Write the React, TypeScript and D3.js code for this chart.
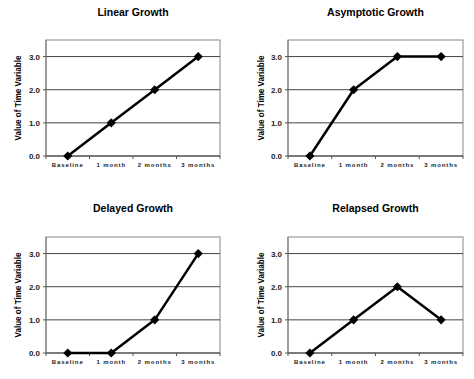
import React from "react";
import * as d3 from "d3";

const categories = ["Baseline", "1 month", "2 months", "3 months"];
const yTicks = [0, 1, 2, 3];
const titles = ["Linear Growth", "Asymptotic Growth", "Delayed Growth", "Relapsed Growth"];
const linearValues = [0, 1, 2, 3];
const asymptoticValues = [0, 2, 3, 3];
const delayedValues = [0, 0, 1, 3];
const relapsedValues = [0, 1, 2, 1];
const yLabel = "Value of Time Variable";

const panels = [
  { title: titles[0], values: linearValues, left: 46, top: 40, width: 174, height: 116, labelX: 18, titleY: 16 },
  { title: titles[1], values: asymptoticValues, left: 288, top: 40, width: 175, height: 116, labelX: 261, titleY: 16 },
  { title: titles[2], values: delayedValues, left: 46, top: 237, width: 174, height: 116, labelX: 18, titleY: 212 },
  { title: titles[3], values: relapsedValues, left: 288, top: 237, width: 175, height: 116, labelX: 261, titleY: 212 },
];

const font = "'Liberation Sans', Arial, sans-serif";

function Panel({ p }: { p: typeof panels[0] }) {
  const x = d3.scaleBand<string>().domain(categories).range([p.left, p.left + p.width]).padding(0);
  const y = d3.scaleLinear().domain([0, 3.5]).range([p.top + p.height, p.top]);
  const line = d3
    .line<number>()
    .x((_, i) => (x(categories[i]) as number) + x.bandwidth() / 2)
    .y((v) => y(v));
  const diamond = d3.symbol().type(d3.symbolSquare).size(42)() as string;
  const bottom = p.top + p.height;
  const right = p.left + p.width;
  const midY = (p.top + bottom) / 2;
  const boundaries = [0, 1, 2, 3, 4].map((i) => p.left + i * x.bandwidth());
  return (
    <g>
      <text
        x={(p.left + right) / 2}
        y={p.titleY}
        textAnchor="middle"
        fontFamily={font}
        fontWeight="bold"
        fontSize={10.5}
      >
        {p.title}
      </text>
      <rect x={p.left} y={p.top} width={p.width} height={p.height} fill="white" stroke="#888" strokeWidth={1} />
      {yTicks.slice(1).map((t) => (
        <line key={t} x1={p.left} x2={right} y1={y(t)} y2={y(t)} stroke="#444" strokeWidth={1} />
      ))}
      <line x1={p.left} x2={right} y1={bottom} y2={bottom} stroke="#333" strokeWidth={1} />
      <line x1={p.left} x2={p.left} y1={p.top} y2={bottom} stroke="#777" strokeWidth={1} />
      {yTicks.map((t) => (
        <g key={t}>
          <line x1={p.left - 3} x2={p.left} y1={y(t)} y2={y(t)} stroke="#555" />
          <text
            x={p.left - 6}
            y={y(t) + 3}
            textAnchor="end"
            fontFamily={font}
            fontWeight="bold"
            fontSize={8}
            fill="#222"
          >
            {t.toFixed(1)}
          </text>
        </g>
      ))}
      {boundaries.map((bx, i) => (
        <line key={i} x1={bx} x2={bx} y1={bottom} y2={bottom + 3} stroke="#555" />
      ))}
      {categories.map((c) => (
        <text
          key={c}
          x={(x(c) as number) + x.bandwidth() / 2}
          y={bottom + 11}
          textAnchor="middle"
          fontFamily={font}
          fontWeight="bold"
          fontSize={6}
          letterSpacing={0.9}
          fill="#222"
        >
          {c}
        </text>
      ))}
      <text
        transform={`translate(${p.labelX},${midY}) rotate(-90)`}
        textAnchor="middle"
        dy="0.35em"
        fontFamily={font}
        fontWeight="bold"
        fontSize={8.5}
        textLength={85}
        lengthAdjust="spacingAndGlyphs"
      >
        {yLabel}
      </text>
      <path d={line(p.values) as string} fill="none" stroke="black" strokeWidth={2.5} strokeLinejoin="round" />
      {p.values.map((v, i) => (
        <path
          key={i}
          d={diamond}
          transform={`translate(${(x(categories[i]) as number) + x.bandwidth() / 2},${y(v)}) rotate(45)`}
          fill="black"
        />
      ))}
    </g>
  );
}

export default function App() {
  return (
    <svg width={474} height={379} style={{ position: "absolute", left: 0, top: 0, background: "white" }}>
      <rect width={474} height={379} fill="white" />
      {panels.map((p) => (
        <Panel key={p.title} p={p} />
      ))}
    </svg>
  );
}
